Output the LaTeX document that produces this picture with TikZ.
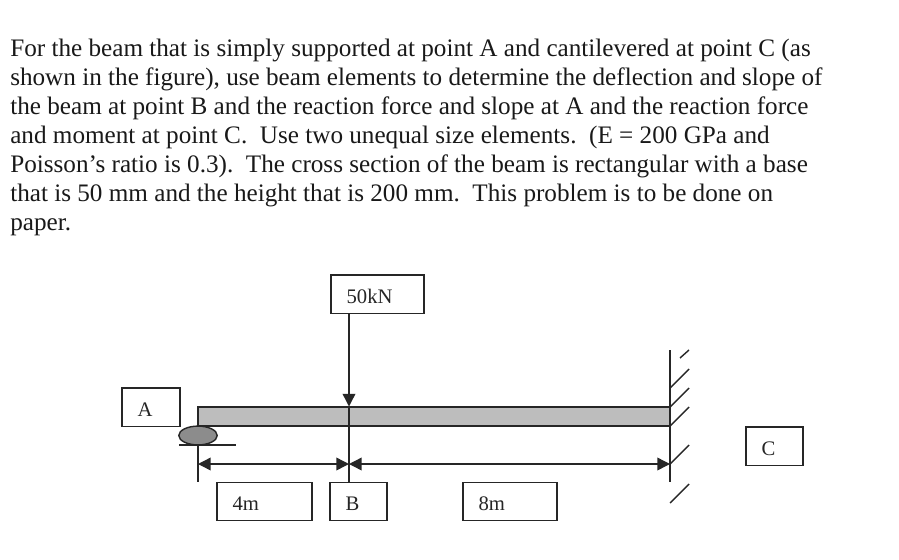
\documentclass[tikz,border=0pt]{standalone}
\usepackage{fontspec}
\setmainfont{Liberation Serif}
\usepackage{tikz}
\usetikzlibrary{arrows.meta,positioning,shapes.geometric}
\definecolor{inkline}{gray}{0.15}
\definecolor{beamgray}{gray}{0.74}
\definecolor{rollergray}{gray}{0.55}
\tikzset{
	txtline/.style={anchor=base west,inner sep=0pt,font=\fontsize{17.9}{20}\selectfont,text=black!90},
	labelbox/.style={draw=inkline,line width=1pt,inner xsep=0.39cm,inner ysep=0pt,minimum height=0.96cm,align=left,text height=12.8pt,text depth=0pt,font=\fontsize{14.7}{16}\selectfont,text=black!85},
	member/.style={draw=inkline,line width=1pt},
	dimarrow/.style={member,{Triangle[length=9pt,width=9pt]}-{Triangle[length=9pt,width=9pt]}},
	hatch/.style={draw=inkline,line width=1pt}
}
\begin{document}
\begin{tikzpicture}[x=0.025cm,y=-0.025cm]
	\path[use as bounding box,fill=white] (0,0) rectangle (899,559);

	\node[txtline] (line1) at (10,56) {For the beam that is simply supported at point A and cantilevered at point C (as};
	\node[txtline] (line2) at (10,85) {shown in the figure), use beam elements to determine the deflection and slope of};
	\node[txtline] (line3) at (10,114) {the beam at point B and the reaction force and slope at A and the reaction force};
	\node[txtline] (line4) at (10,143) {and moment at point C.\ \ Use two unequal size elements.\ \ (E = 200 GPa and};
	\node[txtline] (line5) at (10,172) {Poisson’s ratio is 0.3).\ \ The cross section of the beam is rectangular with a base};
	\node[txtline] (line6) at (10,201) {that is 50 mm and the height that is 200 mm.\ \ This problem is to be done on};
	\node[txtline] (line7) at (10,230) {paper.};

	\node[labelbox,text width=1.545cm] (load) at (377.5,294) {50kN};
	\node[labelbox,text width=0.67cm] (boxA) at (151,407) {A};
	\node[labelbox,text width=0.645cm] (boxC) at (774.5,446) {C};
	\node[labelbox,text width=1.595cm] (dim4) at (264.5,501.5) {4m};
	\node[labelbox,text width=0.645cm] (boxB) at (358.5,501.5) {B};
	\node[labelbox,text width=1.57cm] (dim8) at (510,501.5) {8m};

	\node[draw=inkline,line width=1pt,fill=beamgray,minimum width=11.8cm,minimum height=0.475cm,inner sep=0pt] (beam) at (434,416.5) {};
	\node[draw=inkline,line width=1pt,fill=rollergray,ellipse,minimum width=0.96cm,minimum height=0.47cm,inner sep=0pt] (roller) at (198,435.5) {};

	\coordinate (loadtop) at (349,313);
	\coordinate (loadtip) at (349,406.5);
	\coordinate (loadend) at (349,482);
	\coordinate (supA) at (198,445);
	\coordinate (supAend) at (198,482);
	\coordinate (groundL) at (179,445);
	\coordinate (groundR) at (236,445);
	\coordinate (dimA) at (198,464);
	\coordinate (dimB) at (349,464);
	\coordinate (dimC) at (670,464);
	\coordinate (walltop) at (670,350);
	\coordinate (wallend) at (670,482);

	\draw[member,-{Triangle[length=9pt,width=9pt]}] (loadtop) -- (loadtip);
	\draw[member] (loadtip) -- (loadend);
	\draw[member] (supA) -- (supAend);
	\draw[member] (groundL) -- (groundR);
	\draw[dimarrow] (dimA) -- (dimB);
	\draw[dimarrow] (dimB) -- (dimC);
	\draw[member] (walltop) -- (wallend);

	\foreach \y in {388,407,426,464}
		\draw[hatch] (670,\y) -- ++(19,-19);
	\draw[hatch] (680,358) -- (689,350);
	\draw[hatch] (670,503) -- (689,484);
\end{tikzpicture}
\end{document}
